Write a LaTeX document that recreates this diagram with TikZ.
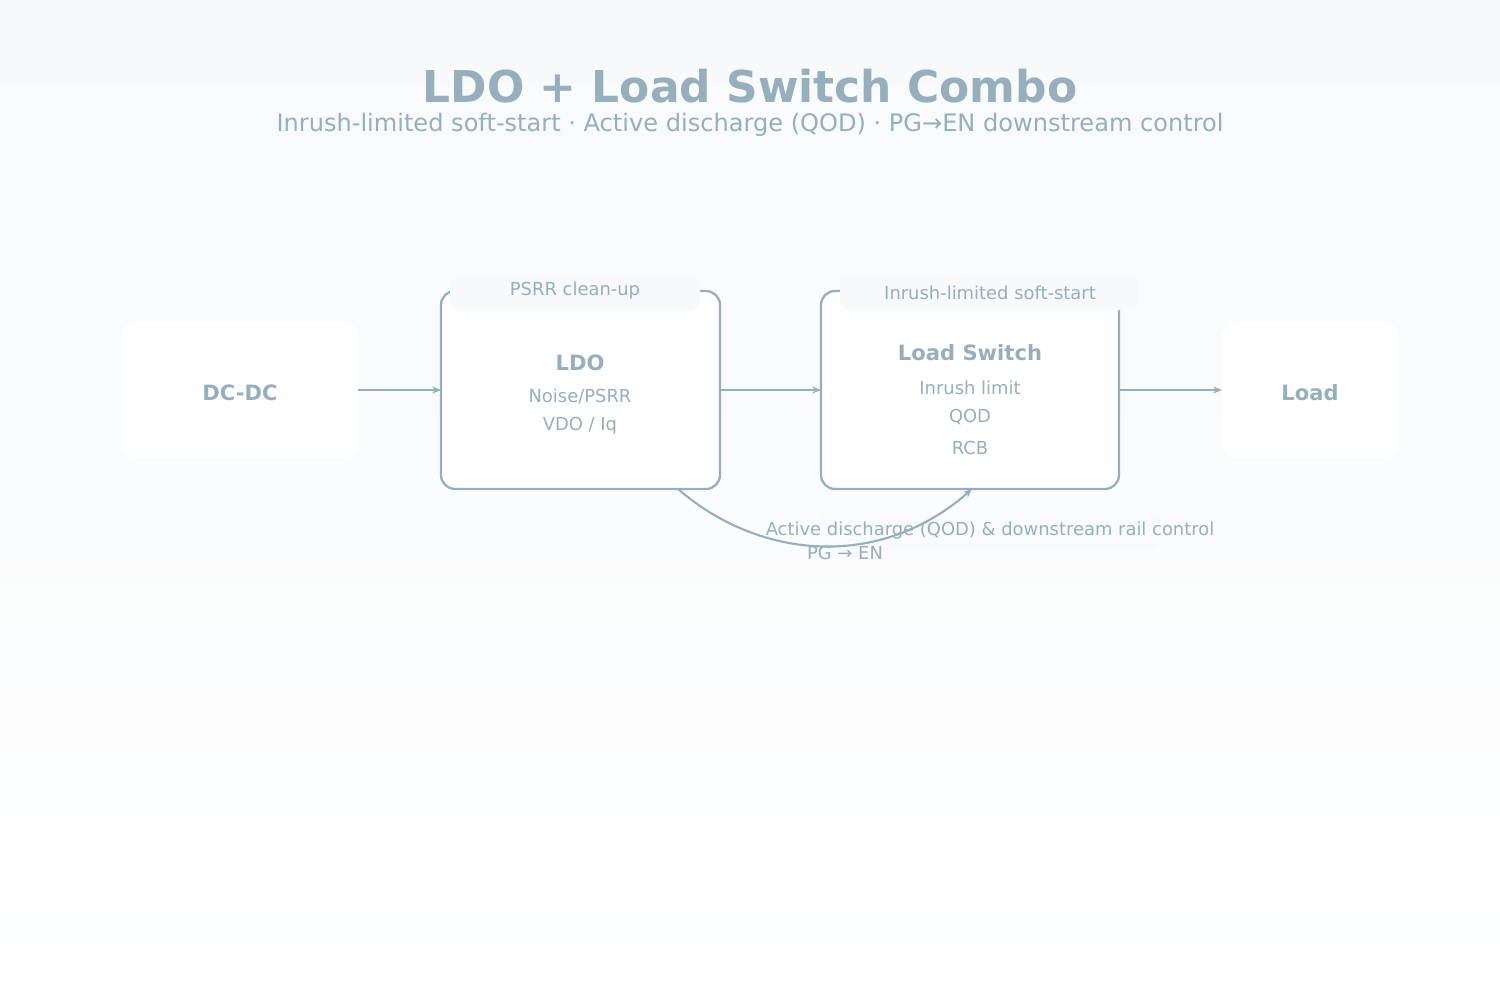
\documentclass[tikz,border=0pt]{standalone}
\usepackage{fontspec}
\setmainfont{DejaVu Sans}
\usetikzlibrary{arrows.meta}
\definecolor{tc}{HTML}{97AEBD}
\definecolor{bgt}{HTML}{F7F9FB}
\definecolor{tag}{HTML}{F4F6F8}
\begin{document}
\begin{tikzpicture}[x=0.02cm,y=-0.02cm,
  box/.style={draw=tc,line width=1.3pt,fill=white,rounded corners=8pt},
  plain/.style={fill=white,rounded corners=8pt},
  tagb/.style={fill=bgt,rounded corners=6pt},
  arr/.style={draw=tc,line width=1.2pt,-{Stealth[length=5pt,width=4pt]}},
  txt/.style={text=tc,font=\fontsize{10.2}{12}\selectfont},
  ttl/.style={text=tc,font=\bfseries\fontsize{12}{14}\selectfont}]
\shade[top color=bgt,bottom color=white] (0,0) rectangle (1500,1000);
\useasboundingbox (0,0) rectangle (1500,1000);
\node[text=tc,font=\bfseries\fontsize{25}{29}\selectfont] (title) at (750,86) {LDO + Load Switch Combo};
\node[text=tc,font=\fontsize{13.7}{16}\selectfont] (sub) at (750,125) {Inrush-limited soft-start · Active discharge (QOD) · PG→EN downstream control};
% boxes
\path[plain] (122,322) rectangle (358,458);
\node[ttl] (dcdc) at (240,393) {DC-DC};
\coordinate (dcR) at (358,390);
\path[plain] (1222,322) rectangle (1398,458);
\node[ttl] (load) at (1310,393) {Load};
\coordinate (ldL) at (1222,390);
\draw[box] (441,291) rectangle (720,489);
\draw[box] (821,291) rectangle (1119,489);
\coordinate (ldoL) at (441,390); \coordinate (ldoR) at (720,390);
\coordinate (lsL) at (821,390); \coordinate (lsR) at (1119,390);
\path[tagb] (450,275) rectangle (700,310);
\node[txt] (t1) at (575,291) {PSRR clean-up};
\path[tagb] (840,275) rectangle (1138,310);
\node[txt] (t2) at (990,293) {Inrush-limited soft-start};
\node[ttl] (ldo) at (580,363) {LDO};
\node[txt] (l1) at (580,397) {Noise/PSRR};
\node[txt] (l2) at (580,426) {VDO / Iq};
\node[ttl] (ls) at (970,353) {Load Switch};
\node[txt] (s1) at (970,388) {Inrush limit};
\node[txt] (s2) at (970,417) {QOD};
\node[txt] (s3) at (970,448) {RCB};
\draw[arr] (dcR) -- (ldoL);
\draw[arr] (ldoR) -- (lsL);
\draw[arr] (lsR) -- (ldL);
\path[tagb,fill=tag!60!white] (820,512) rectangle (1160,550);
\coordinate (cs) at (678,489); \coordinate (ce) at (972,489);
\draw[arr] (cs) .. controls (760,560) and (880,570) .. (ce);
\node[txt] (q) at (990,531) {Active discharge (QOD) \& downstream rail control};
\node[txt] (pg) at (845,553) {PG → EN};
\end{tikzpicture}
\end{document}
